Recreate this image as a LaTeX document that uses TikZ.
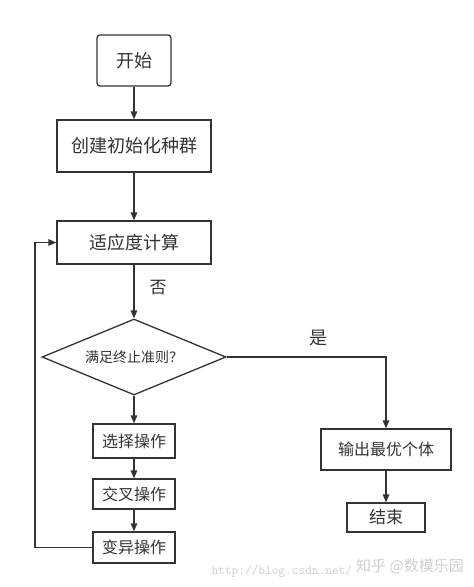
\documentclass[tikz,border=0pt]{standalone}
\usepackage{fontspec}
\setmainfont{Noto Sans CJK SC}
\newfontfamily\cjkfont{Noto Sans CJK SC}
\usetikzlibrary{shapes.geometric,arrows.meta}
\definecolor{linec}{HTML}{333333}
\definecolor{wmark}{HTML}{CFCFCF}
\begin{document}
\begin{tikzpicture}[x=1pt,y=-1pt,
  every node/.style={font=\cjkfont, text=linec},
  boxnode/.style={draw=linec, line width=1.3pt, rectangle, inner sep=0pt},
  decnode/.style={draw=linec, line width=1.3pt, diamond, aspect=2.42, inner sep=0pt,
    minimum width=184pt, minimum height=76pt},
  conn/.style={draw=linec, line width=1.3pt, -{Triangle[length=8pt,width=6.5pt]}},
  plainline/.style={draw=linec, line width=1.3pt}]
\useasboundingbox (0,0) rectangle (474,587);
\fill[white] (0,0) rectangle (474,587);
\node[boxnode, rounded corners=3pt, minimum width=74pt, minimum height=51pt, font=\cjkfont\fontsize{18}{20}\selectfont] (start) at (134,60.5) {开始};
\node[boxnode, minimum width=154pt, minimum height=52pt, font=\cjkfont\fontsize{18}{20}\selectfont] (init) at (134,146) {创建初始化种群};
\node[boxnode, minimum width=154pt, minimum height=43pt, font=\cjkfont\fontsize{18}{20}\selectfont] (fit) at (134,242.5) {适应度计算};
\node[decnode, font=\cjkfont\fontsize{14}{16}\selectfont] (dec) at (134,357) {满足终止准则？};
\node[boxnode, minimum width=82pt, minimum height=34pt, font=\cjkfont\fontsize{16}{18}\selectfont] (sel) at (134,441) {选择操作};
\node[boxnode, minimum width=82pt, minimum height=30pt, font=\cjkfont\fontsize{16}{18}\selectfont] (cross) at (134,494) {交叉操作};
\node[boxnode, minimum width=82pt, minimum height=31pt, font=\cjkfont\fontsize{16}{18}\selectfont] (mut) at (134,547.5) {变异操作};
\node[boxnode, minimum width=130pt, minimum height=41pt, font=\cjkfont\fontsize{16}{18}\selectfont] (out) at (386,449.5) {输出最优个体};
\node[boxnode, minimum width=78pt, minimum height=29pt, font=\cjkfont\fontsize{17}{19}\selectfont] (end) at (386,517.5) {结束};
\node[font=\cjkfont\fontsize{17}{19}\selectfont] (no) at (158,288) {否};
\node[font=\cjkfont\fontsize{18}{20}\selectfont] (yes) at (318,338) {是};
\coordinate (lp) at (35,547.5);
\draw[conn] (start) -- (init);
\draw[conn] (init) -- (fit);
\draw[conn] (fit) -- (dec);
\draw[conn] (dec) -- (sel);
\draw[conn] (sel) -- (cross);
\draw[conn] (cross) -- (mut);
\draw[conn] (dec.east) -| (out.north);
\draw[conn] (out) -- (end);
\draw[conn] (mut.west) -- (lp) |- (fit.west);
\node[font=\ttfamily\fontsize{13}{15}\selectfont, text=wmark, anchor=west] (url) at (208,571) {http://blog.csdn.net/};
\node[font=\cjkfont\fontsize{15}{17}\selectfont, text=wmark] (zh) at (410,566) {知乎 @数模乐园};
\end{tikzpicture}
\end{document}
